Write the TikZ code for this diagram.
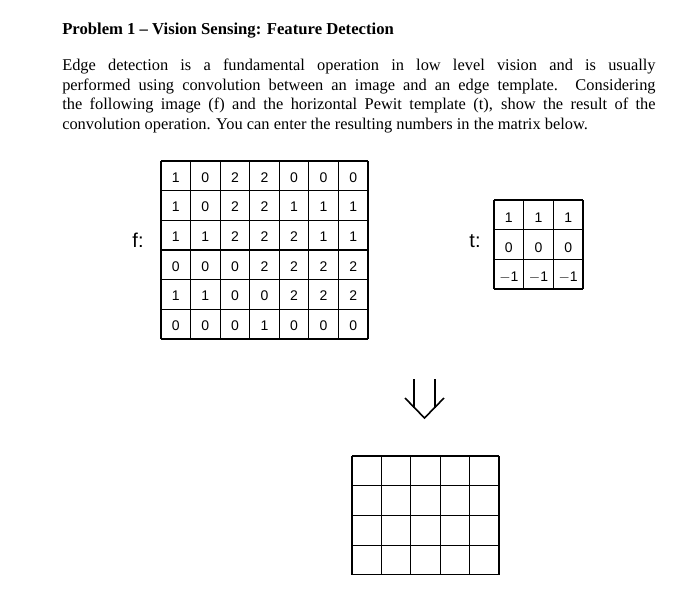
\documentclass[tikz,border=0pt]{standalone}
\usepackage{fontspec}
\setmainfont{Liberation Serif}
\newfontfamily\cellfont{Liberation Sans}
\begin{document}
\begin{tikzpicture}[x=0.75pt,y=-0.75pt,
  cell/.style={font=\cellfont\fontsize{10.5}{12}\selectfont},
  grid/.style={line width=0.9pt,black}]
\useasboundingbox (0,0) rectangle (700,604);
\node[anchor=base west,inner sep=0,font=\bfseries\fontsize{12.5}{15}\selectfont] (title) at (62,34) {Problem 1 -- Vision Sensing: Feature Detection};
\node[anchor=north west,inner sep=0,text width=445pt,align=justify,font=\fontsize{12.3}{14.6}\selectfont] (para) at (62,59)
{Edge detection is a fundamental operation in low level vision and is usually\linebreak
performed using convolution between an image and an edge template. Considering\linebreak
the following image (f) and the horizontal Pewit template (t), show the result of the\linebreak
convolution operation. You can enter the resulting numbers in the matrix below.};
% f grid
\def\fx{161}\def\fy{161}\def\cw{29.57}\def\ch{29.67}
\foreach \i in {0,...,7} \draw[grid] ({\fx+\i*\cw},\fy) -- ({\fx+\i*\cw},{\fy+6*\ch});
\foreach \j in {0,...,6} \draw[grid] (\fx,{\fy+\j*\ch}) -- ({\fx+7*\cw},{\fy+\j*\ch});
\foreach \row [count=\r from 0] in {{1,0,2,2,0,0,0},{1,0,2,2,1,1,1},{1,1,2,2,2,1,1},{0,0,0,2,2,2,2},{1,1,0,0,2,2,2},{0,0,0,1,0,0,0}}
  \foreach \v [count=\c from 0] in \row
    \node[cell] (f\r\c) at ({\fx+(\c+0.5)*\cw},{\fy+(\r+0.55)*\ch}) {\v};
\node[font=\cellfont\fontsize{15}{18}\selectfont] (flab) at (138,240) {f:};
% t grid
\def\tx{494}\def\ty{200}\def\tw{29.67}
\foreach \i in {0,...,3} \draw[grid] ({\tx+\i*\tw},\ty) -- ({\tx+\i*\tw},{\ty+3*\tw});
\foreach \j in {0,...,3} \draw[grid] (\tx,{\ty+\j*\tw}) -- ({\tx+3*\tw},{\ty+\j*\tw});
\foreach \row [count=\r from 0] in {{1,1,1},{0,0,0},{$-$1,$-$1,$-$1}}
  \foreach \v [count=\c from 0] in \row
    \node[cell] (t\r\c) at ({\tx+(\c+0.5)*\tw},{\ty+(\r+0.6)*\tw}) {\v};
\node[font=\cellfont\fontsize{15}{18}\selectfont] (tlab) at (475,241) {t:};
% arrow
\draw[line width=1.2pt] (414,379) -- (414,408) (435,379) -- (435,408);
\draw[line width=1.2pt] (405,398) -- (424.5,418) -- (444,398);
% result grid
\def\rx{352}\def\ry{456}\def\rw{29.4}\def\rh{29.7}
\foreach \i in {0,...,5} \draw[grid] ({\rx+\i*\rw},\ry) -- ({\rx+\i*\rw},{\ry+4*\rh});
\foreach \j in {0,...,4} \draw[grid] (\rx,{\ry+\j*\rh}) -- ({\rx+5*\rw},{\ry+\j*\rh});
\end{tikzpicture}
\end{document}
